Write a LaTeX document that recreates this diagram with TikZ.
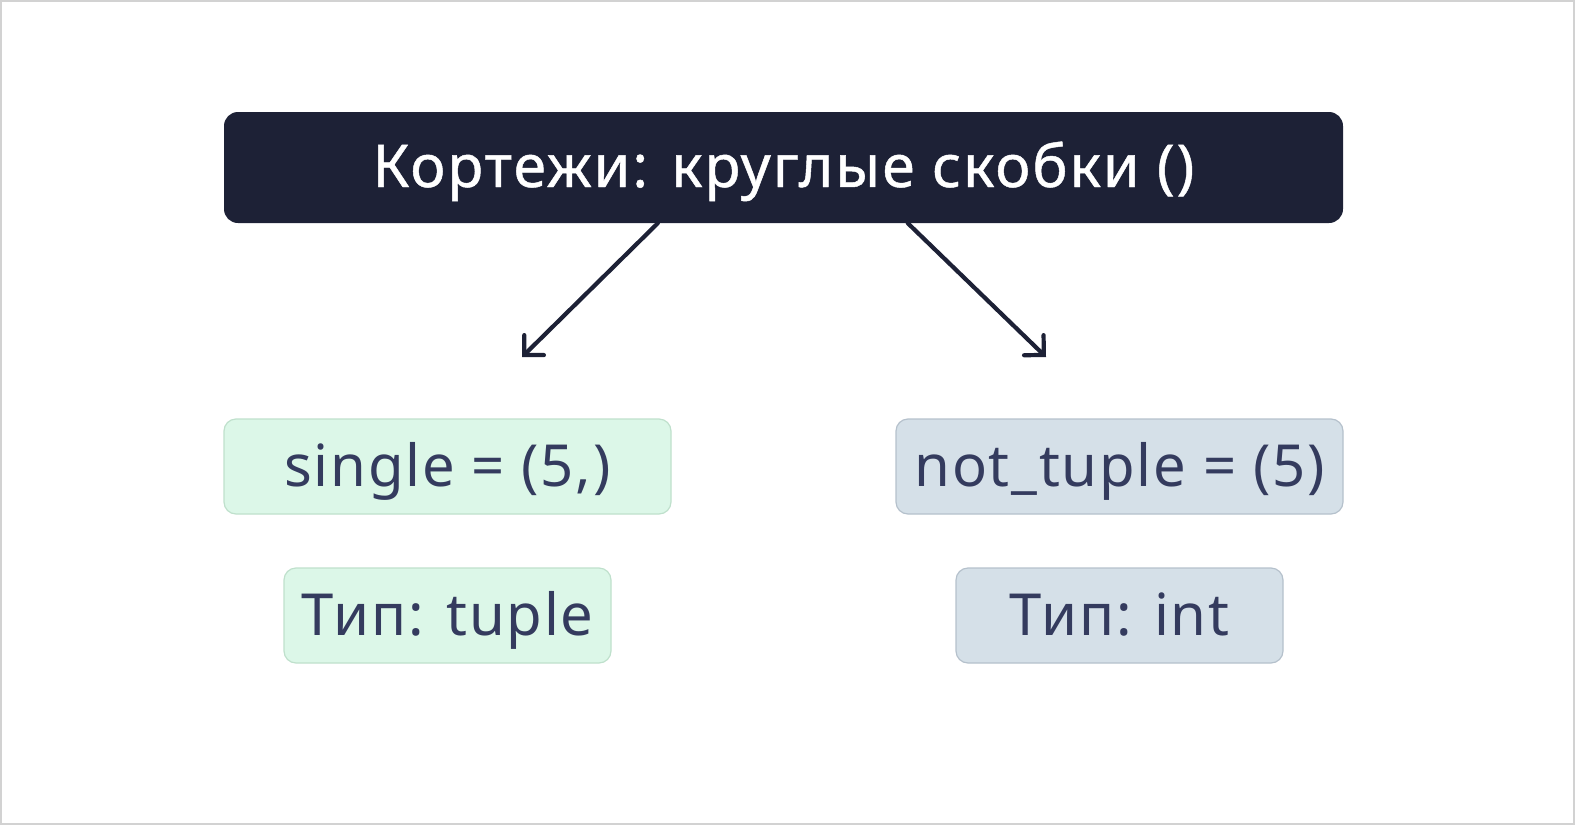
\documentclass[tikz,border=0pt]{standalone}
\usepackage{fontspec}
\setmainfont{Noto Sans}
\newfontfamily\titlefont[LetterSpace=3.4,FakeBold=0.8]{Noto Sans}
\newfontfamily\boxfont[LetterSpace=3]{Noto Sans}
\usetikzlibrary{arrows.meta}
\definecolor{navy}{HTML}{1D2136}
\definecolor{ink}{HTML}{343B5E}
\definecolor{greenfill}{HTML}{DCF7E8}
\definecolor{greenline}{HTML}{BFE0CC}
\definecolor{bluefill}{HTML}{D5E0E8}
\definecolor{blueline}{HTML}{B5C1CC}
\definecolor{frame}{HTML}{D2D2D2}
\tikzset{
  box/.style={rounded corners=12pt, inner sep=0pt, line width=1.2pt, text=ink, text height=42pt, text depth=3pt, font=\boxfont\fontsize{58}{62}\selectfont},
  greenbox/.style={box, fill=greenfill, draw=greenline},
  bluebox/.style={box, fill=bluefill, draw=blueline},
  titlebox/.style={rounded corners=14pt, inner sep=0pt, fill=navy, text=white, text height=42pt, text depth=3pt, font=\titlefont\fontsize{59}{62}\selectfont},
  arr/.style={draw=navy, line width=4.2pt, line cap=round, -{Straight Barb[length=14pt, width=28pt, line width=4.2pt, line cap=round]}}
}
\begin{document}
\begin{tikzpicture}[x=1pt,y=-1pt]
\useasboundingbox (0,0) rectangle (1575,825);
\draw[frame, line width=2pt] (1,1) rectangle (1574,824);
\node[titlebox, minimum width=1119pt, minimum height=111pt] (title) at (783.5,167.5) {Кортежи: круглые скобки ()};
\node[greenbox, minimum width=447pt, minimum height=95pt] (single) at (447.5,466.5) {single = (5,)};
\node[greenbox, minimum width=327pt, minimum height=95pt] (ttuple) at (447.5,615.5) {Тип: tuple};
\node[bluebox, minimum width=447pt, minimum height=95pt] (nottuple) at (1119.5,466.5) {not\_tuple = (5)};
\node[bluebox, minimum width=327pt, minimum height=95pt] (tint) at (1119.5,615.5) {Тип: int};
\coordinate (e1) at (522,357);
\coordinate (e2) at (1046,357);
\draw[arr] ([xshift=434pt]title.south west) -- (e1);
\draw[arr] ([xshift=684pt]title.south west) -- (e2);
\end{tikzpicture}
\end{document}
